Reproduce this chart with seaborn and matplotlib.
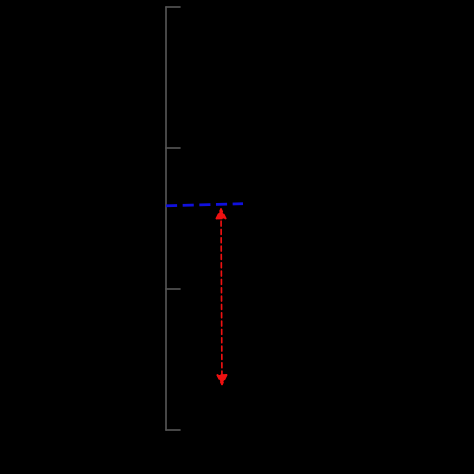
import matplotlib
matplotlib.use("Agg")
import matplotlib.pyplot as plt
import seaborn as sns
import pandas as pd

# scale bar ticks (values)
scale_ticks = [0, 1, 2, 3]
scale_x = 166
tick_len = 14
# blue dashed reference line
blue_x = [166, 243]
blue_y = [1.59, 1.605]
# red double-headed arrow
arrow_x = [221, 222]
arrow_y = [1.58, 0.31]

sns.set_style("dark")
fig = plt.figure(figsize=(4.74, 4.74), dpi=100, facecolor="black")
ax = fig.add_axes([0, 0, 1, 1])
ax.set_facecolor("black")
ax.set_xlim(0, 474)
ax.set_ylim(-44 / 141, 430 / 141)
ax.axis("off")

ax.plot([scale_x, scale_x], [scale_ticks[0], scale_ticks[-1]], color="#555555", lw=1.2)
for t in scale_ticks:
    ax.plot([scale_x, scale_x + tick_len], [t, t], color="#555555", lw=1.2)

sns.lineplot(data=pd.DataFrame({"x": blue_x, "y": blue_y}), x="x", y="y", ax=ax,
             color="#1010dd", lw=2.0, linestyle=(0, (4, 2)))

ax.annotate("", xy=(arrow_x[0], arrow_y[0]), xytext=(arrow_x[1], arrow_y[1]),
            arrowprops=dict(arrowstyle="<|-|>", color="#ee1111", lw=1.2,
                            linestyle=(0, (3, 2)), mutation_scale=17,
                            shrinkA=0, shrinkB=0))

fig.savefig("out.png", dpi=100, facecolor="black")
